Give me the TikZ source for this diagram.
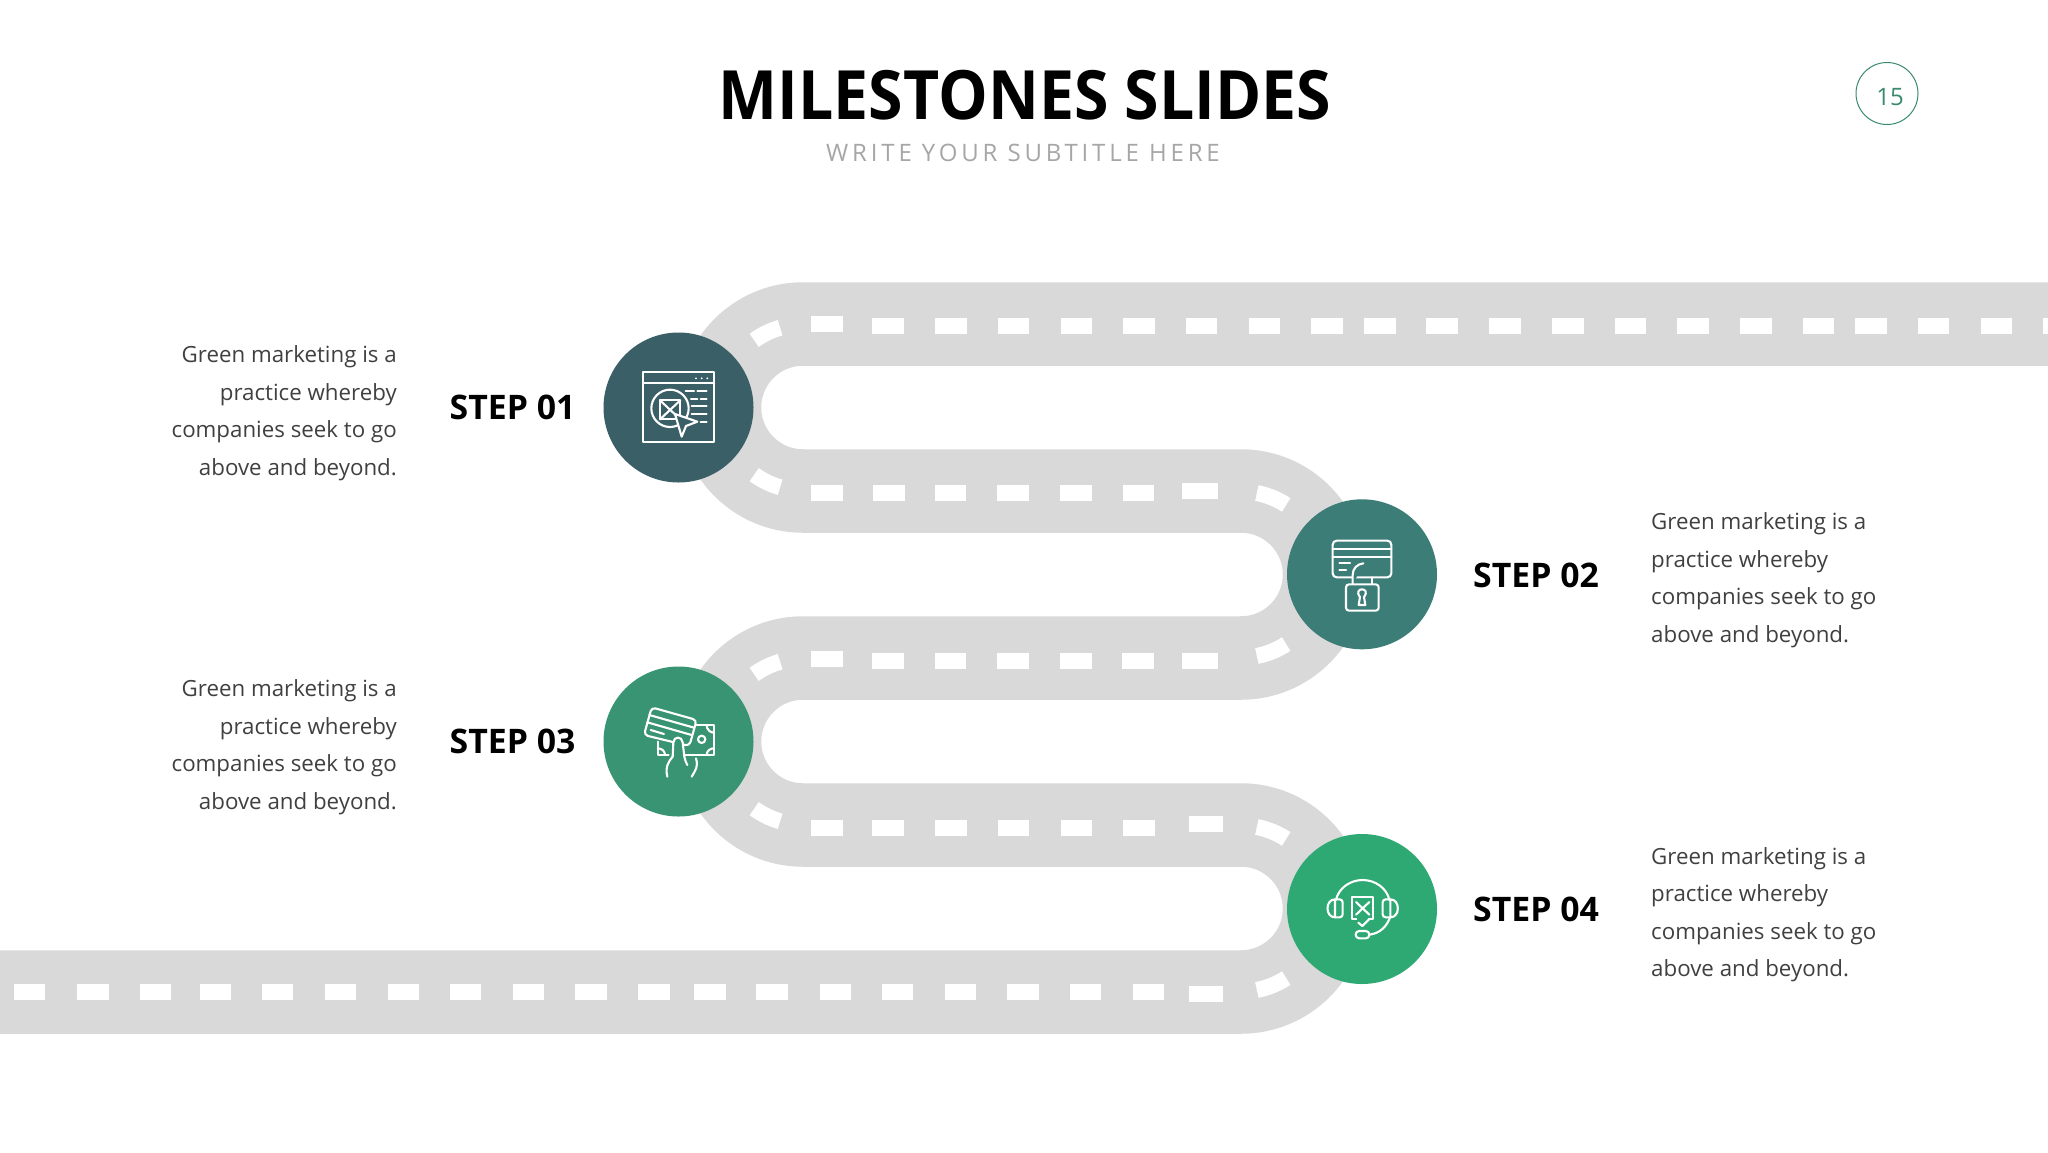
\documentclass[tikz,border=0pt]{standalone}
\usepackage{fontspec}
\setmainfont{Open Sans}
\newfontfamily\subfont[LetterSpace=16]{Open Sans}
\definecolor{roadgray}{HTML}{D9D9D9}
\definecolor{cone}{HTML}{3B5F67}
\definecolor{ctwo}{HTML}{3C7D77}
\definecolor{cthree}{HTML}{399473}
\definecolor{cfour}{HTML}{2FA973}
\definecolor{bodygray}{HTML}{404040}
\definecolor{subgray}{HTML}{A6A6A6}
\definecolor{pagegreen}{HTML}{3A8A70}
\tikzset{
  road/.style={draw=roadgray,line width=83.5pt},
  roadmark/.style={draw=white,line width=16pt},
  stepdisc/.style={circle,minimum size=150pt,inner sep=0pt},
  steplabel/.style={inner sep=0pt,font=\fontsize{33.8}{33.8}\selectfont\bfseries,text=black},
  bodyleft/.style={inner sep=0pt,align=right,anchor=east,text=bodygray,font=\fontsize{22.3}{37.5}\selectfont},
  bodyright/.style={inner sep=0pt,align=left,anchor=west,text=bodygray,font=\fontsize{22.3}{37.5}\selectfont},
  iconline/.style={draw=white,line width=2.1pt,line cap=round,line join=round},
  zoomed/.style={x=0.33333pt,y=-0.33333pt},
}
\newcommand{\markrow}[2]{\foreach \xx in {#2} \fill[white] (\xx,#1-8) rectangle ++(31.5,16);}
\begin{document}
\begin{tikzpicture}[x=1pt,y=-1pt]
\useasboundingbox (0,0) rectangle (2048,1152);
\fill[white] (0,0) rectangle (2048,1152);
% road
\draw[road] (2048,324) -- (803,324) arc[start angle=90,end angle=270,radius=83.5pt]
  -- (1241,491) arc[start angle=90,end angle=-90,radius=83.5pt]
  -- (803,658) arc[start angle=90,end angle=270,radius=83.5pt]
  -- (1241,825) arc[start angle=90,end angle=-90,radius=83.5pt]
  -- (0,992);
% lane marks
\markrow{323.8}{811.3}
\markrow{325.7}{872.4,935.1,997.8,1060.5,1123.2,1185.9,1248.6,1311.3,1364,1426.4,1489.3,1552.1,1614.5,1677.3,1740.1,1802.9,1855.4,1917.8,1980.6}
\fill[white] (2043.4,317.7) rectangle (2048,333.7);
\markrow{493}{811.3,873.2,934.7,997.4,1060.1,1122.8}
\fill[white] (1182.1,483.3) rectangle (1218.3,499.2);
\markrow{658.7}{811.3}
\markrow{660.7}{872,934.7,997,1060,1122.4}
\fill[white] (1182.1,652.7) rectangle (1218,668.7);
\markrow{828}{811.3,872.4,935.4,997.8,1060.5,1123.2}
\fill[white] (1188.9,816.3) rectangle (1223,832.3);
\markrow{992.3}{13.9,77,139.7,199.5,261.8,324.9,387.6,449.9,512.6,575.3,638,694.1,756.4,819.5,881.8,944.5,1007.2,1069.9,1132.6}
\fill[white] (1189,986) rectangle (1223.1,1001.7);
\foreach \cy in {407.5,741.5}{
  \draw[roadmark] ([shift={(106:83pt)}]803,\cy) arc[start angle=106,end angle=126,radius=83pt];
  \draw[roadmark] ([shift={(234:83pt)}]803,\cy) arc[start angle=234,end angle=254,radius=83pt];
}
\foreach \cy in {574.5,908.5}{
  \draw[roadmark] ([shift={(79:83pt)}]1241,\cy) arc[start angle=79,end angle=57,radius=83pt];
  \draw[roadmark] ([shift={(-57:83pt)}]1241,\cy) arc[start angle=-57,end angle=-79,radius=83pt];
}
% title
\node (title) [anchor=base,inner sep=0pt,font=\fontsize{68}{68}\selectfont\bfseries,text=black] at (1025,119) {\scalebox{0.92}[1]{MILESTONES SLIDES}};
\node (subtitle) [anchor=base,inner sep=0pt,font=\fontsize{24}{24}\selectfont\subfont,text=subgray] at (1023,161) {WRITE YOUR SUBTITLE HERE};
\node (pagedisc) [circle,draw=pagegreen,line width=1pt,minimum size=62pt,inner sep=0pt] at (1887,93.5) {};
\node (pagenum) [inner sep=0pt,font=\fontsize{24}{24}\selectfont,text=pagegreen] at (1890,97.5) {15};
% discs
\node (disc1) [stepdisc,fill=cone] at (678.5,407.5) {};
\node (disc2) [stepdisc,fill=ctwo] at (1362,574.3) {};
\node (disc3) [stepdisc,fill=cthree] at (678.5,741.5) {};
\node (disc4) [stepdisc,fill=cfour] at (1362,909) {};
% step labels
\node (step1) [steplabel,anchor=base west] at (449.5,419.8) {STEP 01};
\node (step2) [steplabel,anchor=base west] at (1473,587.5) {STEP 02};
\node (step3) [steplabel,anchor=base west] at (449.5,753.5) {STEP 03};
\node (step4) [steplabel,anchor=base west] at (1473,921.5) {STEP 04};
% body texts
\node (text1) [bodyleft] at (397,413) {Green marketing is a\\practice whereby\\companies seek to go\\above and beyond.};
\node (text2) [bodyright] at (1651,580) {Green marketing is a\\practice whereby\\companies seek to go\\above and beyond.};
\node (text3) [bodyleft] at (397,747) {Green marketing is a\\practice whereby\\companies seek to go\\above and beyond.};
\node (text4) [bodyright] at (1651,914.5) {Green marketing is a\\practice whereby\\companies seek to go\\above and beyond.};
% icon 1
\begin{scope}[shift={(590,320)},zoomed]
  \draw[iconline,line cap=butt] (160,155) rectangle (372,367);
  \draw[iconline] (160,190) -- (372,190);
  \foreach \px in {318,335,352} \fill[white] (\px,175) circle[radius=3.2];
  \draw[iconline] (240,265) circle[radius=56];
  \draw[iconline,line cap=butt] (210,241) rectangle (271,298);
  \draw[iconline] (210,241) -- (271,298) (271,241) -- (210,298);
  \draw[iconline,fill=cone] (255,282) -- (322,305) -- (288,318) -- (275,350) -- cycle;
  \draw[iconline] (287,213) -- (312,213) (322,213) -- (350,213)
    (303,236) -- (322,236) (332,236) -- (350,236)
    (305,259) -- (350,259) (305,282) -- (350,282) (332,305) -- (350,305);
\end{scope}
% icon 2
\begin{scope}[shift={(1270,490)},zoomed]
  \draw[iconline,rounded corners=4pt] (188,152) rectangle (364,262);
  \draw[iconline] (188,178) -- (364,178) (188,200) -- (364,200)
    (208,220) -- (240,220) (208,240) -- (228,240);
  \draw[iconline,fill=ctwo] (248,285) -- (248,255) .. controls (248,235) and (262,222) .. (280,220);
  \draw[iconline] (305,262) -- (305,285);
  \draw[iconline,rounded corners=3pt,fill=ctwo] (228,283) rectangle (326,362);
  \draw[iconline] (270,321) .. controls (258,305) and (268,298) .. (276,298)
     .. controls (284,298) and (294,305) .. (282,321) -- (286,345) -- (266,345) -- cycle;
\end{scope}
% icon 3
\begin{scope}[shift={(590,660)},zoomed]
  \draw[iconline] (203,245) -- (203,285) -- (236,285) (285,285) -- (372,285) -- (372,195) -- (320,195);
  \draw[iconline] (335,238) circle[radius=11];
  \draw[iconline] (350,195) .. controls (350,208) and (360,218) .. (372,218)
     (350,285) .. controls (350,273) and (360,265) .. (372,265)
     (203,265) .. controls (215,265) and (225,273) .. (225,285);
  \draw[iconline,rounded corners=4pt,fill=cthree] (185,142) -- (320,180) -- (298,258) -- (162,225) -- cycle;
  \draw[iconline] (178,165) -- (312,203) (172,187) -- (305,225) (182,210) -- (222,222);
  \draw[iconline,fill=cthree] (248,290) -- (250,247) .. controls (252,228) and (276,228) .. (278,247) -- (283,290) .. controls (285,300) and (288,308) .. (292,315);
  \draw[iconline] (248,290) .. controls (235,305) and (225,322) .. (232,350)
     (318,295) .. controls (325,320) and (318,328) .. (305,350);
\end{scope}
% icon 4
\begin{scope}[shift={(1270,820)},zoomed]
  \draw[iconline] (198,240) .. controls (205,205) and (240,180) .. (278,180) .. controls (316,180) and (351,205) .. (358,240);
  \draw[iconline] (195,238) .. controls (165,238) and (165,292) .. (195,292) (195,238) -- (195,292);
  \draw[iconline,rounded corners=3pt] (195,238) -- (218,238) -- (218,292) -- (195,292);
  \draw[iconline] (361,238) .. controls (391,238) and (391,292) .. (361,292) (361,238) -- (361,292);
  \draw[iconline,rounded corners=3pt] (361,238) -- (338,238) -- (338,292) -- (361,292);
  \draw[iconline] (360,292) .. controls (350,320) and (330,340) .. (298,344);
  \draw[iconline,rounded corners=3.5pt] (257,333) rectangle (298,355);
  \draw[iconline,line cap=butt] (262,296) -- (246,296) -- (246,232) -- (310,232) -- (310,296) -- (294,296);
  \draw[iconline] (258,246) -- (298,284) (298,246) -- (258,284);
  \draw[iconline] (265,308) -- (277,318) -- (297,298);
\end{scope}
\end{tikzpicture}
\end{document}
